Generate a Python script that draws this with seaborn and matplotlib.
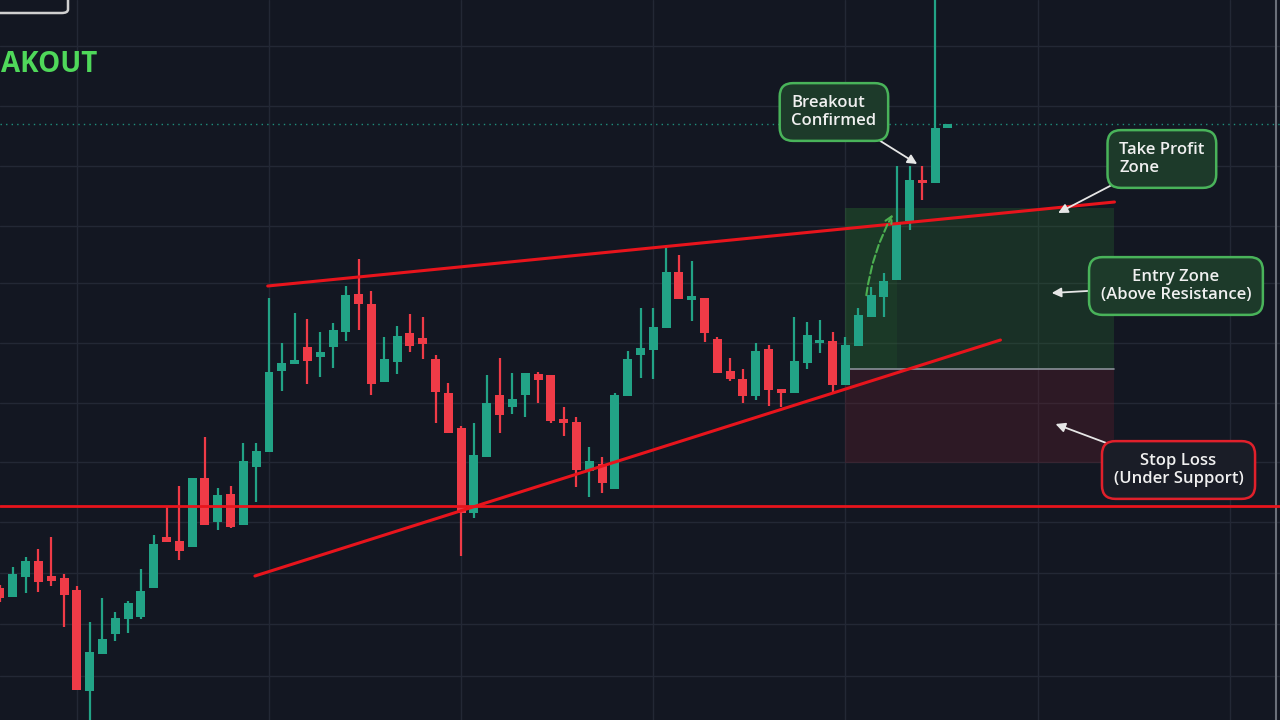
import numpy as np
import pandas as pd
import matplotlib
matplotlib.use("Agg")
import matplotlib.pyplot as plt
from matplotlib.patches import Rectangle, FancyBboxPatch
import seaborn as sns

## candle data (price units), one row per bar
opens = [132, 123, 143, 159, 144, 142, 130, 29, 66, 86, 101, 103, 132, 183, 179, 173, 242, 198, 226, 195,
         253, 268, 349, 356, 373, 363, 373, 388, 426, 416, 338, 358, 387, 382, 361, 327, 292, 207, 263, 325,
         313, 325, 346, 345, 301, 298, 249, 256, 231, 324, 365, 370, 392, 448, 420, 422, 381, 349, 341, 324,
         371, 331, 327, 357, 377, 379, 335, 374, 403, 423, 440, 499, 540, 537, 592]
highs = [135, 153, 163, 171, 183, 146, 134, 98, 122, 108, 119, 151, 185, 213, 234, 242, 283, 232, 234, 277,
         277, 422, 377, 407, 401, 388, 397, 434, 461, 429, 383, 394, 406, 403, 365, 337, 294, 297, 345, 362,
         347, 347, 348, 345, 313, 303, 273, 263, 327, 369, 412, 412, 473, 465, 459, 422, 383, 362, 351, 377,
         375, 331, 403, 398, 400, 388, 383, 412, 433, 447, 554, 554, 554, 730, 596]
lows = [118, 123, 127, 128, 134, 93, 30, -5, 66, 79, 87, 101, 132, 178, 160, 173, 195, 190, 192, 195,
        218, 268, 329, 356, 336, 343, 352, 379, 390, 325, 338, 346, 368, 361, 297, 287, 164, 202, 263, 287,
        306, 303, 317, 297, 284, 233, 223, 227, 231, 324, 342, 341, 392, 421, 399, 378, 347, 339, 317, 320,
        314, 313, 327, 351, 367, 327, 335, 374, 403, 403, 440, 490, 520, 537, 592]
closes = [122, 146, 159, 138, 139, 125, 30, 68, 81, 102, 117, 129, 176, 178, 169, 242, 195, 225, 193, 259,
          269, 348, 357, 360, 359, 368, 390, 425, 416, 336, 361, 384, 374, 376, 328, 287, 207, 265, 317, 305,
          321, 347, 340, 299, 297, 250, 259, 237, 325, 361, 372, 393, 448, 421, 424, 387, 347, 341, 324, 369,
          330, 327, 359, 385, 379, 335, 375, 405, 425, 439, 497, 540, 537, 592, 596]

## drawn levels
support_level = 214
trend_x = [19.9, 78.1]
trend_y = [144, 380]
resist_x = [20.9, 87.0]
resist_y = [434, 518]
zone_x = [66.0, 87.0]
entry_level = 351
take_profit_level = 512
stop_level = 257
last_price = 596

df = pd.DataFrame({"open": opens, "high": highs, "low": lows, "close": closes})
df["idx"] = np.arange(len(df))
df["up"] = df["close"] >= df["open"]

bg = "#131722"
teal = "#22a386"
red = "#ef3b47"
line_red = "#e8141c"

sns.set_theme(style="dark", rc={"axes.facecolor": bg, "figure.facecolor": bg,
                                "grid.color": "#222733", "axes.grid": True})
plt.rcParams['font.family'] = ['Open Sans', 'DejaVu Sans']

fig = plt.figure(figsize=(12.8, 7.2), dpi=100)
ax = fig.add_axes([0, 0, 1, 1])
ax.set_xlim(0, 1280 / 12.81)
ax.set_ylim(0, 720)

## grid
ax.set_xticks([6, 21, 36, 51, 66, 81, 96])
ax.set_yticks([44, 96, 147, 198, 258, 317, 377, 437, 494, 554, 614, 674])
ax.grid(True, color="#232835", linewidth=1)
ax.tick_params(length=0, labelbottom=False, labelleft=False)
for s in ax.spines.values():
    s.set_visible(False)

## zones
ax.add_patch(Rectangle((zone_x[0], entry_level), zone_x[1] - zone_x[0], take_profit_level - entry_level,
                       color="#2e7d32", alpha=0.25, lw=0, zorder=1))
ax.add_patch(Rectangle((zone_x[0], entry_level), 4.0, take_profit_level - entry_level,
                       color="#2e7d32", alpha=0.12, lw=0, zorder=1))
ax.add_patch(Rectangle((zone_x[0], stop_level), zone_x[1] - zone_x[0], entry_level - stop_level,
                       color="#6b1f2c", alpha=0.3, lw=0, zorder=1))
ax.plot(zone_x, [entry_level, entry_level], color="#8a8f99", lw=1.2, zorder=2)

## price line
ax.axhline(last_price, color="#1f8f7c", lw=1, ls=(0, (1, 3)), zorder=1)
ax.axvline(1276 / 12.81, color="#6b707a", lw=1.5, zorder=1)

## candles
for up, col in [(True, teal), (False, red)]:
    d = df[df["up"] == up]
    ax.vlines(d["idx"], d["low"], d["high"], color=col, lw=1.6, zorder=3)
    lo = np.minimum(d["open"], d["close"])
    hgt = np.maximum(np.abs(d["close"] - d["open"]), 3)
    ax.bar(d["idx"], hgt, bottom=lo, width=0.7, color=col, lw=0, zorder=4)

## trend lines
ax.axhline(support_level, color=line_red, lw=2, zorder=5)
ax.plot(trend_x, trend_y, color=line_red, lw=2.2, zorder=5)
ax.plot(resist_x, resist_y, color=line_red, lw=2.2, zorder=5)

## dashed breakout path
ax.annotate("", xy=(69.8, 508), xytext=(67.6, 422),
            arrowprops=dict(arrowstyle="->", color="#4caf50", lw=1.5, ls="--",
                            connectionstyle="arc3,rad=-0.1"), zorder=6)

## callouts
green_box = dict(boxstyle="round,pad=0.7,rounding_size=0.8", fc="#1d3a2a", ec="#49b35a", lw=1.8)
red_box = dict(boxstyle="round,pad=0.7,rounding_size=0.8", fc="#1a1d27", ec="#e0202b", lw=1.8)
arrow = dict(arrowstyle="-|>", color="#e6e6e6", lw=1.3, mutation_scale=14, shrinkA=0, shrinkB=0)

txt = dict(color="#f0f0f0", fontsize=12, fontweight="semibold", va="center", zorder=8)
ax.annotate("Breakout\nConfirmed", xy=(71.6, 556), xytext=(65.1, 608), ha="center",
            multialignment="left", bbox=green_box, arrowprops=arrow, **txt)
ax.annotate("Take Profit\nZone", xy=(82.6, 507), xytext=(90.7, 561), ha="center",
            multialignment="left", bbox=green_box, arrowprops=arrow, **txt)
ax.annotate("Entry Zone\n(Above Resistance)", xy=(82.1, 427), xytext=(91.8, 434), ha="center",
            multialignment="center", bbox=green_box, arrowprops=arrow, **txt)
ax.annotate("Stop Loss\n(Under Support)", xy=(82.4, 296), xytext=(92.0, 250), ha="center",
            multialignment="center", bbox=red_box, arrowprops=arrow, **txt)

## title fragment in the top-left (rest of the word is off-canvas in the reference)
fig.text(1 / 1280, 1 - 65 / 720, "AKOUT", color="#4fd85a", fontsize=20, fontweight="bold",
         ha="left", va="center")
fig.patches.append(FancyBboxPatch((-20 / 1280, 1 - 13 / 720), 88 / 1280, 40 / 720,
                                  boxstyle="round,pad=0,rounding_size=0.005", fc=bg, ec="#d0d0d0",
                                  lw=1.8, transform=fig.transFigure, figure=fig))

fig.savefig("out.png", dpi=100, facecolor=bg)
